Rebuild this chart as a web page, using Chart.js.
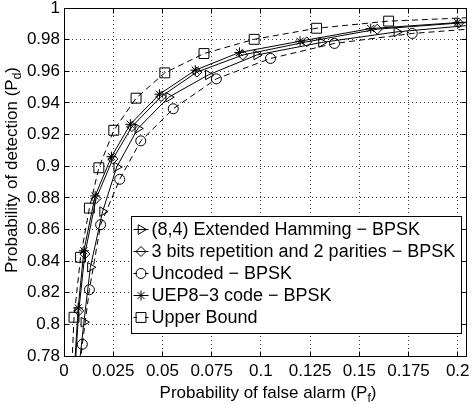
<!DOCTYPE html>
<html>
<head>
<meta charset="utf-8">
<title>ROC - probability of detection vs false alarm</title>
<script src="https://cdn.jsdelivr.net/npm/chart.js@4.4.0/dist/chart.umd.min.js"></script>
<style>
  html, body { margin: 0; padding: 0; background: #fff; }
  #wrap { width: 474px; height: 404px; }
</style>
</head>
<body>
<div id="wrap"><canvas id="rocChart" width="474" height="404"></canvas></div>
<script>
// Axis ticks
const xTicks = [0, 0.025, 0.05, 0.075, 0.1, 0.125, 0.15, 0.175, 0.2];
const xTickLabels = ['0', '0.025', '0.05', '0.075', '0.1', '0.125', '0.15', '0.175', '0.2'];
const yTicks = [0.78, 0.8, 0.82, 0.84, 0.86, 0.88, 0.9, 0.92, 0.94, 0.96, 0.98, 1];
const yTickLabels = ['0.78', '0.8', '0.82', '0.84', '0.86', '0.88', '0.9', '0.92', '0.94', '0.96', '0.98', '1'];

// Series (Pf, Pd)
const hammingPf = [0.0065, 0.0101, 0.0134, 0.0196, 0.0268, 0.0375, 0.0532, 0.0733, 0.0979, 0.1308, 0.1691, 0.212];
const hammingPd = [0.760, 0.8014, 0.8361, 0.8713, 0.8995, 0.9238, 0.9436, 0.9577, 0.9703, 0.9782, 0.9849, 0.9897];

const repetitionPf = [0.0054, 0.0075, 0.0106, 0.0163, 0.0248, 0.0345, 0.0493, 0.0675, 0.0908, 0.1233, 0.1591, 0.2005, 0.245];
const repetitionPd = [0.768, 0.8085, 0.8445, 0.8795, 0.9045, 0.9250, 0.9440, 0.9595, 0.9703, 0.9786, 0.9866, 0.9905, 0.9932];

const uncodedPf = [0.0062, 0.0093, 0.0129, 0.0186, 0.0283, 0.0390, 0.0555, 0.0774, 0.1049, 0.1374, 0.1769, 0.222];
const uncodedPd = [0.750, 0.7874, 0.8219, 0.8630, 0.8917, 0.9160, 0.9363, 0.9552, 0.9681, 0.9776, 0.9839, 0.9882];

const uepPf = [0.0052, 0.0072, 0.0101, 0.0158, 0.0241, 0.0337, 0.0485, 0.0667, 0.0891, 0.1199, 0.1558, 0.2000, 0.245];
const uepPd = [0.770, 0.8104, 0.8465, 0.8812, 0.9060, 0.9265, 0.9455, 0.9607, 0.9719, 0.9790, 0.9870, 0.9908, 0.9935];

const upperPf = [0.0036, 0.0051, 0.0084, 0.0129, 0.0177, 0.0253, 0.0366, 0.0512, 0.0711, 0.0966, 0.1283, 0.1649, 0.208];
const upperPd = [0.763, 0.8045, 0.8424, 0.8735, 0.8990, 0.9227, 0.9430, 0.9590, 0.9712, 0.9802, 0.9872, 0.9917, 0.9940];

const seriesLabels = [
  '(8,4) Extended Hamming \u2212 BPSK',
  '3 bits repetition and 2 parities \u2212 BPSK',
  'Uncoded \u2212 BPSK',
  'UEP8\u22123 code \u2212 BPSK',
  'Upper Bound'
];

const FONT = '"Liberation Sans", Arial, Helvetica, sans-serif';
const DASH = [6, 4];

function toPoints(pf, pd) {
  return pf.map((x, i) => ({ x: x, y: pd[i] }));
}

function makeSet(label, pf, pd, style, radius, rotation, dashed) {
  return {
    label: label,
    data: toPoints(pf, pd),
    showLine: true,
    borderColor: '#000',
    borderWidth: 1,
    borderDash: dashed ? DASH : [],
    tension: 0,
    pointStyle: style,
    pointRadius: radius,
    pointRotation: rotation,
    pointBorderWidth: 1,
    pointBorderColor: '#000',
    pointBackgroundColor: 'rgba(0,0,0,0)'
  };
}

const datasets = [
  makeSet(seriesLabels[0], hammingPf, hammingPd, 'triangle', 5.5, 90, false),
  makeSet(seriesLabels[1], repetitionPf, repetitionPd, 'rectRot', 5, 0, false),
  makeSet(seriesLabels[2], uncodedPf, uncodedPd, 'circle', 5, 0, true),
  makeSet(seriesLabels[3], uepPf, uepPd, 'star', 5, 0, false),
  makeSet(seriesLabels[4], upperPf, upperPd, 'rect', 7, 0, true)
];

function px(p) {
  return Math.round(p - 0.5) + 0.5;
}

// Box, inward ticks on all four sides, and axis titles with subscripts
const matlabFrame = {
  id: 'matlabFrame',
  afterDatasetsDraw(chart) {
    const ctx = chart.ctx;
    const { left, right, top, bottom } = chart.chartArea;
    const xs = chart.scales.x, ys = chart.scales.y;
    ctx.save();
    ctx.strokeStyle = '#000';
    ctx.lineWidth = 1;
    ctx.setLineDash([]);
    ctx.beginPath();
    xs.ticks.forEach(t => {
      const x = px(xs.getPixelForValue(t.value));
      ctx.moveTo(x, px(bottom)); ctx.lineTo(x, px(bottom) - 5);
      ctx.moveTo(x, px(top)); ctx.lineTo(x, px(top) + 5);
    });
    ys.ticks.forEach(t => {
      const y = px(ys.getPixelForValue(t.value));
      ctx.moveTo(px(left), y); ctx.lineTo(px(left) + 5, y);
      ctx.moveTo(px(right), y); ctx.lineTo(px(right) - 5, y);
    });
    ctx.stroke();
    ctx.strokeRect(px(left), px(top), px(right) - px(left), px(bottom) - px(top));
    ctx.restore();
  },
  afterDraw(chart) {
    const ctx = chart.ctx;
    drawSubTitle(ctx, 'Probability of false alarm (P', 'f', ')', 268, 392, 0);
    drawSubTitle(ctx, 'Probability of detection (P', 'd', ')', 11, 170, -Math.PI / 2);
  }
};

function drawSubTitle(ctx, main, sub, tail, cx, cy, rot) {
  ctx.save();
  ctx.translate(cx, cy);
  ctx.rotate(rot);
  ctx.fillStyle = '#000';
  ctx.textBaseline = 'alphabetic';
  ctx.textAlign = 'left';
  ctx.font = '17px ' + FONT;
  const w1 = ctx.measureText(main).width;
  const w3 = ctx.measureText(tail).width;
  ctx.font = '12px ' + FONT;
  const w2 = ctx.measureText(sub).width;
  let x = -(w1 + w2 + w3) / 2;
  const base = 6;
  ctx.font = '17px ' + FONT;
  ctx.fillText(main, x, base);
  x += w1;
  ctx.font = '12px ' + FONT;
  ctx.fillText(sub, x, base + 4);
  x += w2;
  ctx.font = '17px ' + FONT;
  ctx.fillText(tail, x, base);
  ctx.restore();
}

// Legend box drawn inside the axes, like MATLAB's
const boxLegend = {
  id: 'boxLegend',
  afterDatasetsDraw(chart) {
    const ctx = chart.ctx;
    const bx = 131.5, by = 216.5, bw = 330, bh = 117;
    ctx.save();
    ctx.setLineDash([]);
    ctx.fillStyle = '#fff';
    ctx.fillRect(bx, by, bw, bh);
    ctx.strokeStyle = '#000';
    ctx.lineWidth = 1;
    ctx.strokeRect(bx, by, bw, bh);
    chart.data.datasets.forEach((ds, i) => {
      const y = Math.round(by + 12 + i * 22.1) + 0.5;
      const mx = bx + 9.5;
      ctx.strokeStyle = '#000';
      ctx.beginPath();
      if (ds.borderDash.length) {
        ctx.moveTo(bx + 2, y); ctx.lineTo(bx + 5.5, y);
        ctx.moveTo(bx + 13.5, y); ctx.lineTo(bx + 17, y);
      } else {
        ctx.moveTo(bx + 2, y); ctx.lineTo(bx + 17, y);
      }
      ctx.stroke();
      ctx.fillStyle = 'rgba(0,0,0,0)';
      Chart.helpers.drawPoint(ctx, {
        pointStyle: ds.pointStyle,
        radius: ds.pointRadius,
        rotation: ds.pointRotation,
        borderWidth: 1
      }, mx, y);
      ctx.fillStyle = '#000';
      ctx.font = '18px ' + FONT;
      ctx.textBaseline = 'middle';
      ctx.textAlign = 'left';
      ctx.fillText(ds.label, bx + 20, y + 1);
    });
    ctx.restore();
  }
};

const ctx = document.getElementById('rocChart').getContext('2d');
const rocChart = new Chart(ctx, {
  type: 'scatter',
  data: { datasets: datasets },
  options: {
    responsive: false,
    animation: false,
    layout: { padding: { left: 0, right: 3, top: 6, bottom: 0 } },
    plugins: {
      legend: { display: false },
      tooltip: { enabled: false }
    },
    scales: {
      x: {
        type: 'linear',
        min: 0,
        max: 0.2042,
        afterBuildTicks: s => { s.ticks = xTicks.map(v => ({ value: v })); },
        afterFit: s => { s.height = 48; s.paddingLeft = 0; s.paddingRight = 0; },
        ticks: {
          callback: (v, i) => xTickLabels[i],
          color: '#000',
          font: { family: FONT, size: 17 },
          padding: 5,
          maxRotation: 0,
          autoSkip: false
        },
        grid: { color: '#333', lineWidth: 1, drawTicks: false },
        border: { display: false, dash: [1, 3] }
      },
      y: {
        type: 'linear',
        min: 0.78,
        max: 1,
        afterBuildTicks: s => { s.ticks = yTicks.map(v => ({ value: v })); },
        afterFit: s => { s.width = 64; s.paddingTop = 0; s.paddingBottom = 0; },
        ticks: {
          callback: (v, i) => yTickLabels[i],
          color: '#000',
          font: { family: FONT, size: 17 },
          padding: 4,
          autoSkip: false
        },
        grid: { color: '#333', lineWidth: 1, drawTicks: false },
        border: { display: false, dash: [1, 3] }
      }
    }
  },
  plugins: [matlabFrame, boxLegend]
});
</script>
</body>
</html>
